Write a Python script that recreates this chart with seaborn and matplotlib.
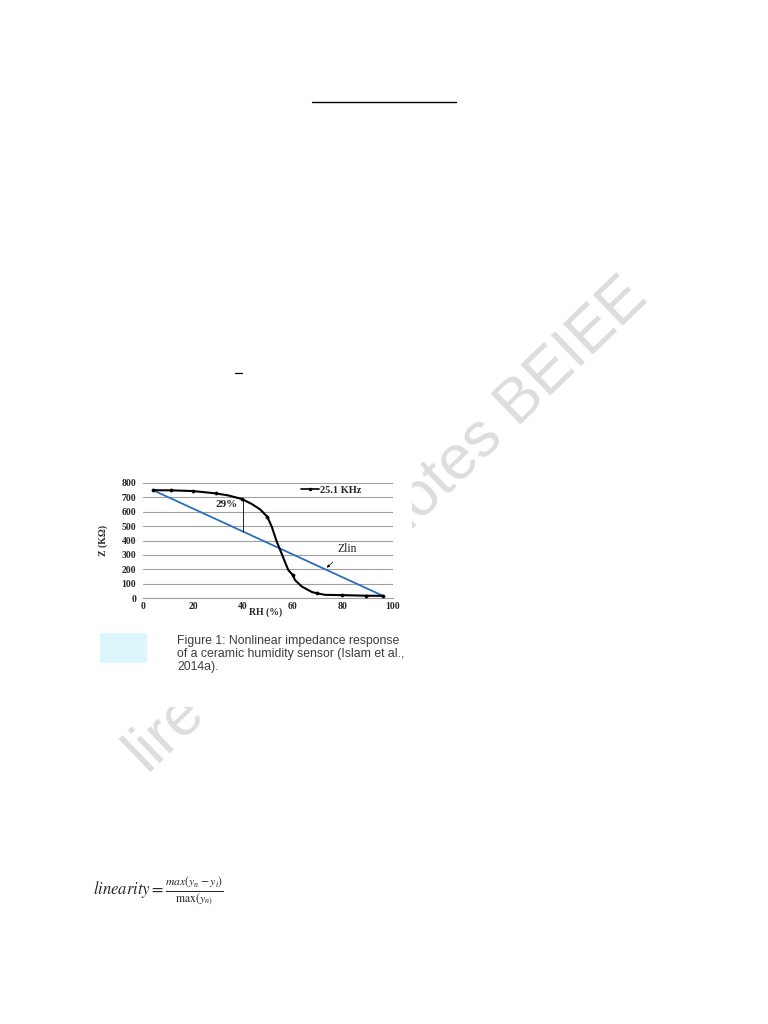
import matplotlib
matplotlib.use("Agg")
import matplotlib.pyplot as plt
import seaborn as sns
from matplotlib.lines import Line2D
from matplotlib.patches import Rectangle

# 25.1 KHz impedance curve, read along the drawn (smoothed) line
rh_curve = [4, 11, 20, 29, 34, 39.5, 43.5, 46.8, 49.7, 51.5, 53.5, 55.2, 56.8,
            58.1, 59.9, 60.8, 63.5, 67.5, 69.5, 72.8, 79.5, 89, 96]
z_curve = [750, 749, 744, 728, 714, 689, 654, 617, 566, 496, 392, 320, 250,
           195, 160, 125, 80, 42, 33, 22, 20, 16, 15]
# measured points (markers)
rh_pts = [4, 11, 20, 29, 39.5, 49.7, 59.9, 69.5, 79.5, 89, 96]
z_pts = [750, 749, 744, 728, 689, 566, 160, 33, 20, 15, 15]
# linear reference line Zlin
rh_lin = [4, 96]
z_lin = [750, 15]
# 29% gap marker
gap_rh = 40
gap_z = [462, 689]

y_ticks = [0, 100, 200, 300, 400, 500, 600, 700, 800]
x_ticks = [0, 20, 40, 60, 80, 100]

caption = ["Figure 1: Nonlinear impedance response",
           "of a ceramic humidity sensor (Islam et al.,",
           "2014a)."]

sns.set_style("white")
plt.rcParams["font.family"] = ["Liberation Serif", "DejaVu Sans"]
plt.rcParams["mathtext.fontset"] = "stix"

W, H = 768, 1024
fig = plt.figure(figsize=(W / 100, H / 100), dpi=100)

# watermark (partly hidden behind the pasted figure)
wm = dict(rotation=44, rotation_mode="anchor", va="baseline", fontsize=45,
          color="#dddddd", family="Liberation Sans", zorder=0.1)
fig.text(649 / W, 1 - 300 / H, "notes BEIEE", ha="right", **wm)
fig.text(146 / W, 1 - 772 / H, "lire", ha="left", **wm)
fig.add_artist(Rectangle((100 / W, 1 - 707 / H), 312 / W, 239 / H,
                         transform=fig.transFigure, facecolor="white",
                         edgecolor="none", zorder=0.5))
fig.add_artist(Rectangle((100 / W, 1 - 663 / H), 47 / W, 30 / H,
                         transform=fig.transFigure, facecolor="#dcf6fb",
                         edgecolor="none", zorder=0.6))

# page decorations
fig.add_artist(Line2D([312 / W, 456 / W], [1 - 101.5 / H] * 2,
                      color="black", lw=1.0, zorder=2))
fig.add_artist(Line2D([235 / W, 242 / W], [1 - 373 / H] * 2,
                      color="black", lw=0.9, zorder=2))

ax = fig.add_axes([143 / W, 1 - 598 / H, 250 / W, 115 / H])
ax.set_zorder(1)
ax.patch.set_alpha(0)

sns.lineplot(x=rh_lin, y=z_lin, color="#2a6fbf", lw=1.3, ax=ax)
sns.lineplot(x=rh_curve, y=z_curve, color="black", lw=1.5, sort=False, ax=ax)
sns.scatterplot(x=rh_pts, y=z_pts, color="black", s=6, marker="o",
                edgecolor="black", ax=ax, zorder=3)
ax.vlines(gap_rh, gap_z[0], gap_z[1], color="black", lw=0.6)

ax.set_xlim(0, 100)
ax.set_ylim(0, 800)
ax.set_xticks(x_ticks)
ax.set_yticks(y_ticks)
ax.yaxis.grid(True, color="#a0a0a0", lw=0.8)
ax.xaxis.grid(False)
for s in ["top", "right", "left"]:
    ax.spines[s].set_visible(False)
ax.spines["bottom"].set_color("#a0a0a0")
ax.spines["bottom"].set_linewidth(0.8)
ax.tick_params(axis="both", length=0, labelsize=7, pad=3)
ax.tick_params(axis="y", pad=5)
for lab in ax.get_xticklabels() + ax.get_yticklabels():
    lab.set_fontweight("bold")

ax.set_xlabel("RH (%)", fontsize=7, fontweight="bold")
ax.set_ylabel("Z (KΩ)", fontsize=7, fontweight="bold")
ax.xaxis.set_label_coords(0.49, -0.085)
ax.yaxis.set_label_coords(-0.14, 0.5)

ax.text(33.5, 647, "29%", fontsize=8, fontweight="bold", ha="center", va="center")
ax.annotate("Zlin", xy=(73.5, 211), xytext=(81.6, 341), fontsize=8.5,
            ha="center", va="center",
            arrowprops=dict(arrowstyle="-|>", color="black", lw=0.5,
                            mutation_scale=4, shrinkA=4, shrinkB=0))

handle = Line2D([0], [0], color="black", lw=1.2, marker="o", ms=1.5)
ax.legend([handle], ["25.1 KHz"], loc="upper right", bbox_to_anchor=(0.91, 1.06),
          frameon=False, prop=dict(family="Liberation Serif", weight="bold", size=7.5),
          handlelength=1.7, handletextpad=0.1)

for i, line in enumerate(caption):
    fig.text(177 / W, 1 - (644 + 13 * i) / H, line, fontsize=8.8,
             family="Liberation Sans", color="#3c3c3c", va="baseline")

fig.text(93 / W, 1 - 892 / H,
         r"$linearity = \frac{max(y_n - y_i)}{\mathrm{max}(y_{n)}}$",
         fontsize=12, va="center", ha="left")

fig.savefig("out.png", dpi=100)
